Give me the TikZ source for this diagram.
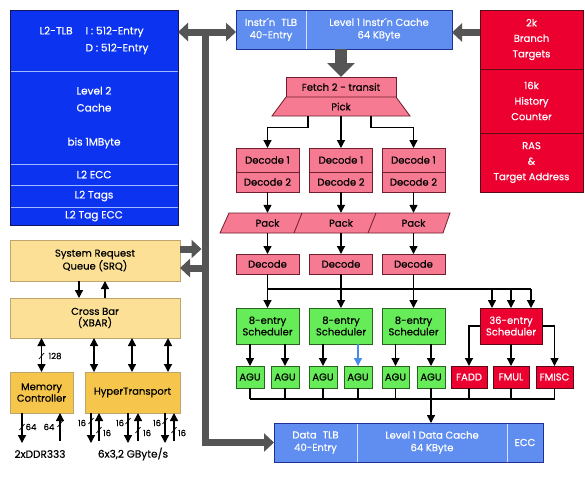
\documentclass[tikz,border=0pt]{standalone}
\usepackage{fontspec}
\setmainfont{Poppins}[FakeBold=0.4]
\usetikzlibrary{arrows.meta,calc}
\definecolor{l2blue}{RGB}{12,52,240}
\definecolor{l2div}{RGB}{160,185,255}
\definecolor{l2line}{RGB}{20,20,90}
\definecolor{l1blue}{RGB}{96,142,240}
\definecolor{l1div}{RGB}{210,225,255}
\definecolor{l1line}{RGB}{30,50,150}
\definecolor{bred}{RGB}{236,0,48}
\definecolor{bredline}{RGB}{90,10,20}
\definecolor{dpink}{RGB}{246,122,145}
\definecolor{pkline}{RGB}{110,30,45}
\definecolor{ltan}{RGB}{251,224,150}
\definecolor{dtan}{RGB}{246,198,76}
\definecolor{tanline}{RGB}{190,165,110}
\definecolor{sgreen}{RGB}{102,236,88}
\definecolor{grline}{RGB}{40,100,30}
\definecolor{busgray}{RGB}{85,85,85}
\definecolor{agublue}{RGB}{70,140,235}
\tikzset{
  every node/.style={font=\fontsize{10}{11.5}\selectfont},
  base/.style={anchor=north west, inner sep=0pt, outer sep=0pt, align=center},
  wh/.style 2 args={minimum width=#1pt, minimum height=#2pt},
  l2/.style={base, fill=l2blue, draw=l2div, line width=0.8pt, text=white, font=\fontsize{10.5}{12}\selectfont},
  l1/.style={base, fill=l1blue, draw=l1div, line width=0.8pt, text=white},
  bp/.style={base, fill=bred, draw=bredline, line width=0.8pt, text=white},
  pk/.style={base, fill=dpink, draw=pkline, line width=0.8pt},
  tanbox/.style={base, fill=ltan, draw=tanline, line width=0.6pt},
  dtanbox/.style={base, fill=dtan, draw=tanline, line width=0.6pt},
  gr/.style={base, fill=sgreen, draw=grline, line width=0.8pt},
  conn/.style={line width=1.3pt, black},
  arr/.style={conn, -{Triangle[width=8pt,length=8pt]}},
  darr/.style={conn, {Triangle[width=8pt,length=8pt]}-{Triangle[width=8pt,length=8pt]}},
  busl/.style={line width=7pt, busgray, line join=miter},
  busarr/.style={busl, -{Triangle[width=18pt,length=10pt]}},
  busdarr/.style={busl, {Triangle[width=18pt,length=10pt]}-{Triangle[width=18pt,length=10pt]}},
  slash/.style={line width=0.7pt, black},
  lbl/.style={font=\fontsize{8.5}{9}\selectfont, inner sep=0pt},
  foot/.style={font=\fontsize{10.5}{12}\selectfont},
}
\begin{document}
\begin{tikzpicture}[x=1pt,y=-1pt]
\useasboundingbox (0,0) rectangle (585,483);
\fill[white] (0,0) rectangle (585,483);

% ---------- L2 block
\node[l2, wh={168}{61}] (l2tlb) at (10,10) {\begin{tabular}{@{}l@{\hspace{13pt}}l@{}}L2-TLB & I : 512-Entry\\[5pt] & D : 512-Entry\end{tabular}};
\node[l2, wh={168}{93}] (l2cache) at (10,71) {Level 2\\[5pt]Cache\\[22pt]bis 1MByte};
\node[l2, wh={168}{21}] (l2ecc) at (10,164) {L2 ECC};
\node[l2, wh={168}{22}] (l2tags) at (10,185) {L2 Tags};
\node[l2, wh={168}{18}] (l2tagecc) at (10,207) {L2 Tag ECC};
\draw[l2line, line width=0.8pt] (l2tlb.north west) rectangle (l2tagecc.south east);

% ---------- L1 instruction
\node[l1, wh={70}{39}] (itlb) at (236,10) {Instr´n\hspace{6pt}TLB\\[1pt]40-Entry};
\node[l1, wh={146}{39}] (il1) at (306,10) {Level 1 Instr´n Cache\\[1pt]64 KByte};
\draw[l1line, line width=0.8pt] (itlb.north west) rectangle (il1.south east);

% ---------- branch prediction
\node[bp, wh={103}{59}] (bt) at (480,10) {2k\\[4pt]Branch\\[4pt]Targets};
\node[bp, wh={103}{64}] (hc) at (480,69) {16k\\[4pt]History\\[4pt]Counter};
\node[bp, wh={103}{59}] (ras) at (480,133) {RAS\\[4pt]\&\\[4pt]Target Address};

% ---------- fetch / pick
\node[pk, wh={110}{20}] (fetch) at (286,77) {Fetch 2 - transit};
\filldraw[fill=dpink, draw=pkline, line width=0.8pt] (286,97) -- (396,97) -- (410,116) -- (272,116) -- cycle;
\node[inner sep=0pt, wh={138}{19}] (pick) at (341,106.5) {Pick};

% ---------- decoders
\foreach \n/\x in {A/236,B/309.5,C/382}{
  \node[pk, wh={63}{24}] (d\n1) at (\x,148) {Decode 1};
  \node[pk, wh={63}{20}] (d\n2) at (\x,172) {Decode 2};
  \node[pk, wh={63}{20}] (dec\n) at (\x,254) {Decode};
  \node[gr, wh={63}{36}] (sch\n) at (\x,308) {8-entry\\Scheduler};
}
% pack parallelograms
\filldraw[fill=dpink, draw=pkline, line width=0.8pt]
  (229,213) -- (302,213) -- (294,233) -- (220,233) -- cycle
  (302,213) -- (376,213) -- (368,233) -- (294,233) -- cycle
  (376,213) -- (450,213) -- (443,233) -- (368,233) -- cycle;
\node[inner sep=0pt, wh={50}{20}] (packA) at (267.5,223) {Pack};
\node[inner sep=0pt, wh={50}{20}] (packB) at (341,223) {Pack};
\node[inner sep=0pt, wh={50}{20}] (packC) at (413.5,223) {Pack};

% ---------- AGUs
\node[gr, wh={28}{22}] (aguA1) at (236,366) {AGU};
\node[gr, wh={28}{22}] (aguA2) at (271,366) {AGU};
\node[gr, wh={28}{22}] (aguB1) at (309,366) {AGU};
\node[gr, wh={28}{22}] (aguB2) at (344,366) {AGU};
\node[gr, wh={27}{22}] (aguC1) at (382,366) {AGU};
\node[gr, wh={28}{22}] (aguC2) at (417,366) {AGU};

% ---------- FP
\node[bp, wh={62}{36}] (fps) at (480,308) {36-entry\\Scheduler};
\node[bp, wh={36}{22}] (fadd) at (451,366) {FADD};
\node[bp, wh={36}{22}] (fmul) at (493,366) {FMUL};
\node[bp, wh={37}{22}] (fmisc) at (536,366) {FMISC};

% ---------- data cache
\node[l1, wh={83}{39}] (dtlb) at (274,423) {Data\hspace{6pt}TLB\\[1pt]40-Entry};
\node[l1, wh={150}{39}] (dl1) at (357,423) {Level 1 Data Cache\\[1pt]64 KByte};
\node[l1, wh={36}{39}] (decc) at (507,423) {ECC};
\draw[l1line, line width=0.8pt] (dtlb.north west) rectangle (decc.south east);

% ---------- system side
\node[tanbox, wh={170}{41}] (srq) at (10,240) {System Request\\Queue (SRQ)};
\node[tanbox, wh={170}{40}] (xbar) at (10,298) {Cross Bar\\(XBAR)};
\node[dtanbox, wh={63}{41}] (mem) at (10,372) {Memory\\Controller};
\node[dtanbox, wh={95}{41}] (ht) at (85,372) {HyperTransport};

% ---------- gray buses
\coordinate (bustop) at (205,32);
\draw[busdarr] (l2tlb.east |- bustop) -- (itlb.west |- bustop);
\draw[busarr] (bustop) -- (bustop |- dtlb.west) -- (dtlb.west);
\draw[busarr] ([yshift=11.5pt]srq.east) -- ([yshift=11.5pt]srq.east -| 201.5,0);
\draw[busarr] ([yshift=-7.5pt]srq.east -| 201.5,0) -- ([yshift=-7.5pt]srq.east);
\draw[busarr] ([yshift=7pt]bt.west) -- ([yshift=7pt]bt.west -| il1.east);
\draw[busgray, line width=12pt, -{Triangle[width=27pt,length=14pt]}] (fetch.north |- il1.south) -- (fetch.north);

% ---------- pick to decode
\draw[arr] ([xshift=-33pt]pick.south) -- ++(0,11) -| (dA1.north);
\draw[arr] (pick.south) -- (dB1.north);
\draw[arr] ([xshift=30pt]pick.south) -- ++(0,11) -| (dC1.north);
\foreach \n in {A,B,C}{
  \draw[arr] (d\n2.south) -- (pack\n.north);
  \draw[arr] (pack\n.south) -- (dec\n.north);
  \draw[arr] (dec\n.south) -- (sch\n.north);
}
\coordinate (dbus) at (0,289);
\draw[conn] (decA.south |- dbus) -- ([xshift=20pt]fps.north |- dbus);
\foreach \dx in {-19,0,20}
  \draw[arr] ([xshift=\dx pt]fps.north |- dbus) -- ([xshift=\dx pt]fps.north);

% ---------- schedulers to units
\draw[arr] (aguA1.north |- schA.south) -- (aguA1.north);
\draw[arr] (aguA2.north |- schA.south) -- (aguA2.north);
\draw[arr] (aguB1.north |- schB.south) -- (aguB1.north);
\draw[arr, agublue] (aguB2.north |- schB.south) -- (aguB2.north);
\draw[arr] (aguC1.north |- schC.south) -- (aguC1.north);
\draw[arr] (aguC2.north |- schC.south) -- (aguC2.north);
\draw[arr] (fps.west) -| (fadd.north);
\draw[arr] (fps.south) -- (fmul.north);
\draw[arr] (fps.east) -| (fmisc.north);

% ---------- result bus
\coordinate (rbus) at (0,399);
\foreach \u in {aguA1,aguA2,aguB1,aguB2,aguC1,fadd,fmul,fmisc}
  \draw[conn] (\u.south) -- (\u.south |- rbus);
\draw[conn] (aguA1.south |- rbus) -- (fmisc.south |- rbus);
\draw[arr] (aguC2.south) -- (aguC2.south |- dl1.north);

% ---------- SRQ / XBAR / memory / HT
\draw[arr] ([xshift=-16pt]srq.south) -- ([xshift=-16pt]srq.south |- xbar.north);
\draw[arr] ([xshift=10pt]srq.south |- xbar.north) -- ([xshift=10pt]srq.south);
\draw[darr] (mem.north |- xbar.south) -- (mem.north);
\draw[slash] (41.5,356) ++(-2.5,3) -- ++(5,-6);
\node[lbl] (l128) at (55,356) {128};
\foreach \dx in {-38.5,-0.5,35.5}
  \draw[darr] ([xshift=\dx pt]ht.north |- xbar.south) -- ([xshift=\dx pt]ht.north);

% memory outputs
\coordinate (mo) at (22,443);
\coordinate (mi) at (60,441);
\draw[arr] (mo |- mem.south) -- (mo);
\draw[arr] (mi) -- (mi |- mem.south);
\draw[slash] (22,427) ++(-2.5,3) -- ++(5,-6);
\draw[slash] (60,424) ++(-2.5,3) -- ++(5,-6);
\node[lbl] (m64a) at (31,427) {64};
\node[lbl] (m64b) at (49,427) {64};

% HT outputs
\foreach \o/\i/\la/\lb [count=\k] in {91/99/82/107, 128/138/120/147, 165/174/157/182}{
  \coordinate (ho\k) at (\o,443);
  \coordinate (hi\k) at (\i,441);
  \draw[arr] (ho\k |- ht.south) -- (ho\k);
  \draw[arr] (hi\k) -- (hi\k |- ht.south);
  \draw[slash] (\o,421) ++(-2.5,3) -- ++(5,-6);
  \draw[slash] (\i,430) ++(-2.5,3) -- ++(5,-6);
  \node[lbl] (hla\k) at (\la,423) {16};
  \node[lbl] (hlb\k) at (\lb,433) {16};
}
\node[foot] (ddr) at (40,454) {2xDDR333};
\node[foot] (htbw) at (133,454) {6x3,2 GByte/s};
\end{tikzpicture}
\end{document}
